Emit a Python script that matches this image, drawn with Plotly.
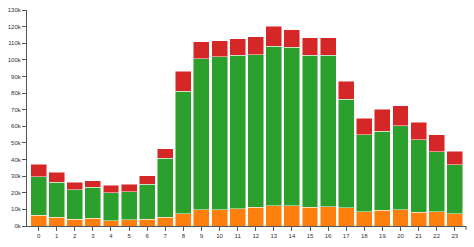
import plotly.graph_objects as go

hours = [str(h) for h in range(24)]
# segment heights (in units)
orange = [6400, 5200, 4000, 4600, 3100, 3800, 4200, 5200, 7500, 9900, 9700, 10300,
          11300, 12100, 12100, 11300, 11500, 11100, 8700, 9500, 9700, 8300, 8500, 7500]
green_top = [29700, 26200, 21900, 23200, 19900, 20500, 25200, 40900, 81000, 100700, 101900, 102800,
             103200, 108100, 107500, 102800, 102800, 76200, 55000, 56900, 60300, 51900, 44600, 36900]
red_top = [37200, 32500, 26400, 27200, 24400, 25000, 30300, 46600, 93000, 111000, 111600, 112800,
           114000, 120100, 118100, 113400, 113400, 87200, 64800, 70300, 72300, 62500, 54800, 45000]
green = [g - o for g, o in zip(green_top, orange)]
red = [r - g for r, g in zip(red_top, green_top)]

y_tickvals = [i * 10000 for i in range(14)]
y_ticktext = [f"{i * 10}k" for i in range(14)]

fig = go.Figure()
for name, vals, col in [("orange", orange, "#ff7f0e"), ("green", green, "#2ca02c"), ("red", red, "#d62728")]:
    fig.add_trace(go.Bar(x=list(range(24)), y=vals, name=name, marker=dict(color=col, line=dict(color="rgba(255,255,255,0.6)", width=0.8))))

fig.update_layout(
    barmode="stack",
    bargap=0.12,
    width=474, height=247,
    margin=dict(l=24, r=8, t=7.5, b=18.5),
    paper_bgcolor="white", plot_bgcolor="white",
    showlegend=False,
    font=dict(family="Liberation Sans, Arial, sans-serif", size=6, color="#333"),
)
fig.update_xaxes(
    range=[-0.64, 23.62],
    tickvals=list(range(24)), ticktext=hours,
    showline=True, linecolor="#555", linewidth=1,
    ticks="outside", ticklen=4, tickcolor="#555", tickwidth=1,
    showgrid=False, zeroline=False, fixedrange=True,
)
fig.update_yaxes(
    range=[0, 130000],
    tickvals=y_tickvals, ticktext=y_ticktext,
    showline=True, linecolor="#555", linewidth=1,
    ticks="outside", ticklen=4, tickcolor="#555", tickwidth=1,
    showgrid=False, zeroline=False, fixedrange=True,
)
# outer tick at the right end of the x domain
fig.add_shape(type="line", xref="paper", yref="paper", x0=1, x1=1, y0=0, y1=-0.018,
              line=dict(color="#555", width=1))
fig.write_html("out.html")
